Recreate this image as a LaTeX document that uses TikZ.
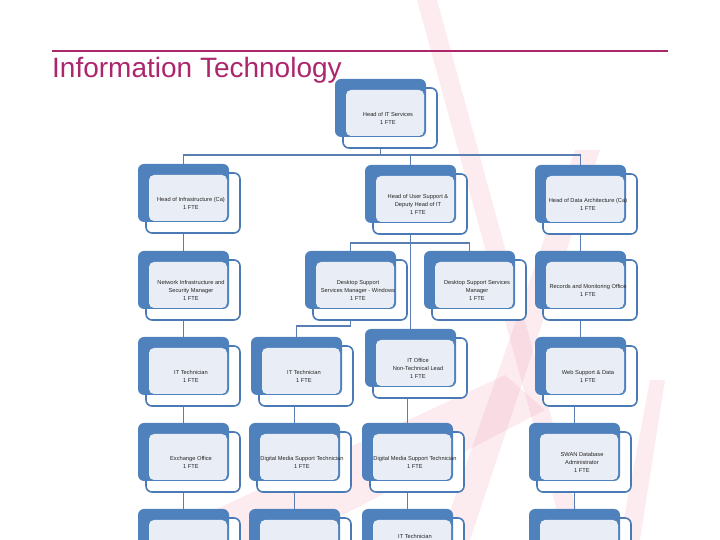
\documentclass[tikz,border=0pt]{standalone}
\usepackage{fontspec}
\setmainfont{Liberation Sans}
\usetikzlibrary{calc}
\pgfdeclarelayer{deco}
\pgfdeclarelayer{links}
\pgfsetlayers{deco,links,main}
\definecolor{boxdark}{RGB}{79,129,189}
\definecolor{boxedge}{RGB}{74,122,182}
\definecolor{boxlight}{RGB}{233,237,245}
\definecolor{linkcol}{RGB}{90,126,178}
\definecolor{titlecol}{RGB}{172,38,108}
\definecolor{bandpink}{RGB}{225,70,110}
\tikzset{
  frontbox/.style={draw=boxedge,line width=1.6pt,fill=white,rounded corners=6pt,
    minimum width=94pt,minimum height=60pt,inner sep=0pt},
  backbox/.style={fill=boxdark,rounded corners=6pt,minimum width=91pt,
    minimum height=58pt,inner sep=0pt},
  innerbox/.style={fill=boxlight,rounded corners=5pt,minimum width=78pt,
    minimum height=46pt,inner sep=0pt},
  boxtext/.style={font=\fontsize{5.7}{8}\selectfont,align=center,text=black!85,inner sep=0pt},
  link/.style={draw=linkcol,line width=1.8pt},
  band/.style={fill=bandpink,opacity=0.1}
}
% #1 name, #2 left edge, #3 top edge (pixels from top), #4 text
\newcommand{\itbox}[4]{%
  \node[frontbox] (#1-f) at (#2+47,540-#3-30) {};
  \node[backbox] (#1) at (#2+37.5,540-#3-20) {};
  \node[innerbox] (#1-i) at (#2+42,540-#3-25) {};
  \node[boxtext] (#1-t) at (#2+45,540-#3-30) {#4};
}
\begin{document}
\begin{tikzpicture}[x=1pt,y=1pt]
  \useasboundingbox (0,0) rectangle (720,540);
  \clip (0,0) rectangle (720,540);
  % background stripes
  \begin{pgfonlayer}{deco}
    \fill[band] (417,540) -- (437,540) -- (585,0) -- (565,0) -- cycle;
    \fill[band] (150,0) -- (295,0) -- (545,130) -- (505,165) -- cycle;
    \fill[band] (575,390) -- (600,390) -- (470,0) -- (440,0) -- cycle;
    \fill[band] (650,160) -- (665,160) -- (640,0) -- (620,0) -- cycle;
  \end{pgfonlayer}
  % title
  \draw[titlecol,line width=2.5pt] (52,489) -- (668,489);
  \node[anchor=base west,inner sep=0pt,text=titlecol,font=\fontsize{28}{30}\selectfont]
    (title) at (52,462) {Information Technology};
  % boxes
  \itbox{it}{343}{88}{Head of IT Services\\1 FTE}
  \itbox{r2a}{146}{173}{Head of Infrastructure (Ca)\\1 FTE}
  \itbox{r2b}{373}{174}{Head of User Support \&\\Deputy Head of IT\\1 FTE}
  \itbox{r2c}{543}{174}{Head of Data Architecture (Ca)\\1 FTE}
  \itbox{r3a}{146}{260}{Network Infrastructure and\\Security Manager\\1 FTE}
  \itbox{r3b}{313}{260}{Desktop Support\\Services Manager - Windows\\1 FTE}
  \itbox{r3c}{432}{260}{Desktop Support Services\\Manager\\1 FTE}
  \itbox{r3d}{543}{260}{Records and Monitoring Office\\1 FTE}
  \itbox{r4a}{146}{346}{IT Technician\\1 FTE}
  \itbox{r4b}{259}{346}{IT Technician\\1 FTE}
  \itbox{r4c}{373}{338}{IT Office\\Non-Technical Lead\\1 FTE}
  \itbox{r4d}{543}{346}{Web Support \& Data\\1 FTE}
  \itbox{r5a}{146}{432}{Exchange Office\\1 FTE}
  \itbox{r5b}{257}{432}{Digital Media Support Technician\\1 FTE}
  \itbox{r5c}{370}{432}{Digital Media Support Technician\\1 FTE}
  \itbox{r5d}{537}{432}{SWAN Database\\Administrator\\1 FTE}
  \itbox{r6a}{146}{518}{}
  \itbox{r6b}{257}{518}{}
  \itbox{r6c}{370}{518}{}
  \itbox{r6d}{537}{518}{}
  \node[boxtext,anchor=base] (r6c-l) at (415,1) {IT Technician};
  % connectors
  \coordinate (busA) at (0,385);
  \coordinate (busB) at (0,297);
  \coordinate (busC) at (0,214);
  \begin{pgfonlayer}{links}
    \draw[link] (it) -- (it |- busA);
    \draw[link] (r2a) |- (r2c |- busA) -- (r2c);
    \draw[link] (r2b |- busA) -- (r2b);
    \draw[link] (r2a) -- (r3a);
    \draw[link] (r2b) -- (r2b |- r4c);
    \draw[link] (r3b) |- (r3c |- busB) -- (r3c);
    \draw[link] (r2c) -- (r3d);
    \draw[link] (r3a) -- (r4a);
    \draw[link] (r3b) |- (r4b |- busC) -- (r4b);
    \draw[link] (r3d) -- (r4d);
    \foreach \a/\b in {r4a/r5a,r4b/r5b,r4c/r5c,r4d/r5d,r5a/r6a,r5b/r6b,r5c/r6c,r5d/r6d}
      \draw[link] (\b) -- (\b |- \a);
  \end{pgfonlayer}
\end{tikzpicture}
\end{document}
